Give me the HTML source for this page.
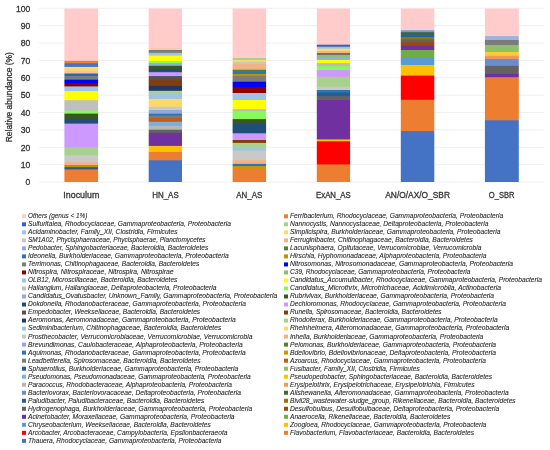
<!DOCTYPE html>
<html><head><meta charset="utf-8"><title>Relative abundance</title>
<style>
html,body{margin:0;padding:0;background:#fff;}
body{width:550px;height:450px;overflow:hidden;}
svg{display:block;}
text{font-family:"Liberation Sans",Arial,sans-serif;}
.ax{font-size:9.2px;fill:#333333;stroke:#333333;stroke-width:0.3px;}
.lg{font-size:6.8px;font-style:italic;fill:#262626;stroke:#262626;stroke-width:0.08px;}
</style></head><body>
<svg width="550" height="450" viewBox="0 0 550 450">
<rect x="0" y="0" width="550" height="450" fill="#fff"/>

<g stroke="#F0F0F0" stroke-width="1">
<line x1="39" x2="544" y1="182" y2="182"/>
<line x1="39" x2="544" y1="164.63" y2="164.63"/>
<line x1="39" x2="544" y1="147.26" y2="147.26"/>
<line x1="39" x2="544" y1="129.89" y2="129.89"/>
<line x1="39" x2="544" y1="112.52" y2="112.52"/>
<line x1="39" x2="544" y1="95.15" y2="95.15"/>
<line x1="39" x2="544" y1="77.78" y2="77.78"/>
<line x1="39" x2="544" y1="60.41" y2="60.41"/>
<line x1="39" x2="544" y1="43.04" y2="43.04"/>
<line x1="39" x2="544" y1="25.67" y2="25.67"/>
<line x1="39" x2="544" y1="8.3" y2="8.3"/>
</g>
<defs>
<mask id="c0" maskUnits="userSpaceOnUse" x="0" y="0" width="550" height="450"><rect x="64.4" y="8.3" width="33.7" height="173.7" fill="#fff"/></mask>
<mask id="c1" maskUnits="userSpaceOnUse" x="0" y="0" width="550" height="450"><rect x="148.7" y="8.3" width="33.3" height="173.7" fill="#fff"/></mask>
<mask id="c2" maskUnits="userSpaceOnUse" x="0" y="0" width="550" height="450"><rect x="232.6" y="8.3" width="33.5" height="173.7" fill="#fff"/></mask>
<mask id="c3" maskUnits="userSpaceOnUse" x="0" y="0" width="550" height="450"><rect x="316.8" y="8.3" width="33.3" height="173.7" fill="#fff"/></mask>
<mask id="c4" maskUnits="userSpaceOnUse" x="0" y="0" width="550" height="450"><rect x="400.8" y="8.3" width="33.5" height="173.7" fill="#fff"/></mask>
<mask id="c5" maskUnits="userSpaceOnUse" x="0" y="0" width="550" height="450"><rect x="484.9" y="8.3" width="33.9" height="173.7" fill="#fff"/></mask>
</defs>
<g mask="url(#c0)">
<rect x="63" y="8.3" width="36" height="174.7" fill="#FFCBCB"/>
<rect x="63" y="60.8" width="36" height="122.2" fill="#ED7D31"/>
<rect x="63" y="63.3" width="36" height="119.7" fill="#4472C4"/>
<rect x="63" y="66.9" width="36" height="116.1" fill="#FFD966"/>
<rect x="63" y="70.6" width="36" height="112.4" fill="#F9C29C"/>
<rect x="63" y="73.5" width="36" height="109.5" fill="#1F6AAE"/>
<rect x="63" y="75.9" width="36" height="107.1" fill="#7B7B7B"/>
<rect x="63" y="79.7" width="36" height="103.3" fill="#0000FF"/>
<rect x="63" y="83" width="36" height="100" fill="#8E0000"/>
<rect x="63" y="86.4" width="36" height="96.6" fill="#9DC3E6"/>
<rect x="63" y="91.1" width="36" height="91.9" fill="#FFFF00"/>
<rect x="63" y="100.2" width="36" height="82.8" fill="#BFBFBF"/>
<rect x="63" y="110.6" width="36" height="72.4" fill="#88FA5A"/>
<rect x="63" y="113.6" width="36" height="69.4" fill="#385723"/>
<rect x="63" y="118.9" width="36" height="64.1" fill="#1F4E79"/>
<rect x="63" y="123.6" width="36" height="59.4" fill="#CC99FF"/>
<rect x="63" y="147.2" width="36" height="35.8" fill="#A9D18E"/>
<rect x="63" y="155.3" width="36" height="27.7" fill="#C9C9C9"/>
<rect x="63" y="162.2" width="36" height="20.8" fill="#F4B183"/>
<rect x="63" y="165" width="36" height="18" fill="#BF9000"/>
<rect x="63" y="167.2" width="36" height="15.8" fill="#2F5597"/>
<rect x="63" y="169.4" width="36" height="13.6" fill="#ED7D31"/>
</g>
<g mask="url(#c1)">
<rect x="147" y="8.3" width="36" height="174.7" fill="#FFCBCB"/>
<rect x="147" y="48" width="36" height="135" fill="#F8CBAD"/>
<rect x="147" y="50" width="36" height="133" fill="#7B7B7B"/>
<rect x="147" y="52.8" width="36" height="130.2" fill="#9DC3E6"/>
<rect x="147" y="55.6" width="36" height="127.4" fill="#FFFF00"/>
<rect x="147" y="61.1" width="36" height="121.9" fill="#88FA5A"/>
<rect x="147" y="63.1" width="36" height="119.9" fill="#8FAADC"/>
<rect x="147" y="65.8" width="36" height="117.2" fill="#385723"/>
<rect x="147" y="69.1" width="36" height="113.9" fill="#1F4E79"/>
<rect x="147" y="72.2" width="36" height="110.8" fill="#CC99FF"/>
<rect x="147" y="76.1" width="36" height="106.9" fill="#525252"/>
<rect x="147" y="80.2" width="36" height="102.8" fill="#843C0C"/>
<rect x="147" y="85.9" width="36" height="97.1" fill="#203864"/>
<rect x="147" y="90.8" width="36" height="92.2" fill="#A9D18E"/>
<rect x="147" y="93" width="36" height="90" fill="#9DC3E6"/>
<rect x="147" y="98.9" width="36" height="84.1" fill="#FFD966"/>
<rect x="147" y="106.7" width="36" height="76.3" fill="#C9C9C9"/>
<rect x="147" y="110" width="36" height="73" fill="#8FAADC"/>
<rect x="147" y="113.7" width="36" height="69.3" fill="#2E75B6"/>
<rect x="147" y="115.6" width="36" height="67.4" fill="#7B7B7B"/>
<rect x="147" y="118.3" width="36" height="64.7" fill="#C55A11"/>
<rect x="147" y="121.7" width="36" height="61.3" fill="#7CAFDD"/>
<rect x="147" y="125.9" width="36" height="57.1" fill="#B7B7B7"/>
<rect x="147" y="129.7" width="36" height="53.3" fill="#636363"/>
<rect x="147" y="132.9" width="36" height="50.1" fill="#7030A0"/>
<rect x="147" y="145.9" width="36" height="37.1" fill="#FFC000"/>
<rect x="147" y="152" width="36" height="31" fill="#ED7D31"/>
<rect x="147" y="160.3" width="36" height="22.7" fill="#4472C4"/>
</g>
<g mask="url(#c2)">
<rect x="231" y="8.3" width="36" height="174.7" fill="#FFCBCB"/>
<rect x="231" y="58" width="36" height="125" fill="#A9D18E"/>
<rect x="231" y="60" width="36" height="123" fill="#FFD966"/>
<rect x="231" y="61.7" width="36" height="121.3" fill="#C9C9C9"/>
<rect x="231" y="63.9" width="36" height="119.1" fill="#F4B183"/>
<rect x="231" y="69.7" width="36" height="113.3" fill="#548235"/>
<rect x="231" y="71.9" width="36" height="111.1" fill="#2E75B6"/>
<rect x="231" y="73.9" width="36" height="109.1" fill="#BF9000"/>
<rect x="231" y="76.1" width="36" height="106.9" fill="#7B7B7B"/>
<rect x="231" y="81.7" width="36" height="101.3" fill="#0000FF"/>
<rect x="231" y="87.2" width="36" height="95.8" fill="#8E0000"/>
<rect x="231" y="93" width="36" height="90" fill="#9DC3E6"/>
<rect x="231" y="100" width="36" height="83" fill="#FFFF00"/>
<rect x="231" y="109.2" width="36" height="73.8" fill="#B8B8D0"/>
<rect x="231" y="111.1" width="36" height="71.9" fill="#88FA5A"/>
<rect x="231" y="119.1" width="36" height="63.9" fill="#385723"/>
<rect x="231" y="123.9" width="36" height="59.1" fill="#1F4E79"/>
<rect x="231" y="133.3" width="36" height="49.7" fill="#CC99FF"/>
<rect x="231" y="140" width="36" height="43" fill="#843C0C"/>
<rect x="231" y="142.9" width="36" height="40.1" fill="#A9D18E"/>
<rect x="231" y="148.2" width="36" height="34.8" fill="#9DC3E6"/>
<rect x="231" y="150.6" width="36" height="32.4" fill="#C9C9C9"/>
<rect x="231" y="160.2" width="36" height="22.8" fill="#F4B183"/>
<rect x="231" y="163.9" width="36" height="19.1" fill="#2E75B6"/>
<rect x="231" y="166.1" width="36" height="16.9" fill="#CC9900"/>
<rect x="231" y="168.7" width="36" height="14.3" fill="#ED7D31"/>
</g>
<g mask="url(#c3)">
<rect x="315" y="8.3" width="36" height="174.7" fill="#FFCBCB"/>
<rect x="315" y="44.7" width="36" height="138.3" fill="#3462C0"/>
<rect x="315" y="46.7" width="36" height="136.3" fill="#9DC3E6"/>
<rect x="315" y="48.7" width="36" height="134.3" fill="#FFD966"/>
<rect x="315" y="51.1" width="36" height="131.9" fill="#F4B183"/>
<rect x="315" y="53" width="36" height="130" fill="#6F6F6F"/>
<rect x="315" y="55" width="36" height="128" fill="#8FBF73"/>
<rect x="315" y="57.8" width="36" height="125.2" fill="#8EB4E3"/>
<rect x="315" y="60" width="36" height="123" fill="#FFFF00"/>
<rect x="315" y="63.1" width="36" height="119.9" fill="#BFB5C8"/>
<rect x="315" y="66.1" width="36" height="116.9" fill="#88FA5A"/>
<rect x="315" y="70" width="36" height="113" fill="#CC99FF"/>
<rect x="315" y="76.7" width="36" height="106.3" fill="#A9D18E"/>
<rect x="315" y="86.7" width="36" height="96.3" fill="#C9C9C9"/>
<rect x="315" y="90" width="36" height="93" fill="#2E75B6"/>
<rect x="315" y="92.6" width="36" height="90.4" fill="#255E91"/>
<rect x="315" y="96.1" width="36" height="86.9" fill="#636363"/>
<rect x="315" y="100" width="36" height="83" fill="#7030A0"/>
<rect x="315" y="139.4" width="36" height="43.6" fill="#FFC000"/>
<rect x="315" y="141.3" width="36" height="41.7" fill="#FF0000"/>
<rect x="315" y="164.4" width="36" height="18.6" fill="#ED7D31"/>
</g>
<g mask="url(#c4)">
<rect x="399" y="8.3" width="36" height="174.7" fill="#FFCBCB"/>
<rect x="399" y="30.2" width="36" height="152.8" fill="#6E9EE0"/>
<rect x="399" y="32.2" width="36" height="150.8" fill="#43682B"/>
<rect x="399" y="34.5" width="36" height="148.5" fill="#2561A5"/>
<rect x="399" y="37" width="36" height="146" fill="#997300"/>
<rect x="399" y="39.5" width="36" height="143.5" fill="#636363"/>
<rect x="399" y="42.3" width="36" height="140.7" fill="#9E480E"/>
<rect x="399" y="45.8" width="36" height="137.2" fill="#7030A0"/>
<rect x="399" y="50" width="36" height="133" fill="#70AD47"/>
<rect x="399" y="57.2" width="36" height="125.8" fill="#5B9BD5"/>
<rect x="399" y="65" width="36" height="118" fill="#FFC000"/>
<rect x="399" y="75.6" width="36" height="107.4" fill="#FF0000"/>
<rect x="399" y="99.8" width="36" height="83.2" fill="#ED7D31"/>
<rect x="399" y="131.1" width="36" height="51.9" fill="#4472C4"/>
</g>
<g mask="url(#c5)">
<rect x="483" y="8.3" width="36" height="174.7" fill="#FFCBCB"/>
<rect x="483" y="36.1" width="36" height="146.9" fill="#9BB3E1"/>
<rect x="483" y="40" width="36" height="143" fill="#7B7B7B"/>
<rect x="483" y="45" width="36" height="138" fill="#8CC168"/>
<rect x="483" y="52" width="36" height="131" fill="#FFCD33"/>
<rect x="483" y="55.8" width="36" height="127.2" fill="#F1975A"/>
<rect x="483" y="58.9" width="36" height="124.1" fill="#698ED0"/>
<rect x="483" y="65.8" width="36" height="117.2" fill="#636363"/>
<rect x="483" y="73.9" width="36" height="109.1" fill="#7030A0"/>
<rect x="483" y="77.2" width="36" height="105.8" fill="#ED7D31"/>
<rect x="483" y="120.3" width="36" height="62.7" fill="#4472C4"/>
</g>
<text class="ax" x="25.61" y="185.25" textLength="4.79" lengthAdjust="spacingAndGlyphs">0</text>
<text class="ax" x="20.82" y="167.88" textLength="9.58" lengthAdjust="spacingAndGlyphs">10</text>
<text class="ax" x="20.82" y="150.51" textLength="9.58" lengthAdjust="spacingAndGlyphs">20</text>
<text class="ax" x="20.82" y="133.14" textLength="9.58" lengthAdjust="spacingAndGlyphs">30</text>
<text class="ax" x="20.82" y="115.77" textLength="9.58" lengthAdjust="spacingAndGlyphs">40</text>
<text class="ax" x="20.82" y="98.4" textLength="9.58" lengthAdjust="spacingAndGlyphs">50</text>
<text class="ax" x="20.82" y="81.03" textLength="9.58" lengthAdjust="spacingAndGlyphs">60</text>
<text class="ax" x="20.82" y="63.66" textLength="9.58" lengthAdjust="spacingAndGlyphs">70</text>
<text class="ax" x="20.82" y="46.29" textLength="9.58" lengthAdjust="spacingAndGlyphs">80</text>
<text class="ax" x="20.82" y="28.92" textLength="9.58" lengthAdjust="spacingAndGlyphs">90</text>
<text class="ax" x="16.03" y="11.55" textLength="14.37" lengthAdjust="spacingAndGlyphs">100</text>
<text class="ax" x="63.36" y="197.5" textLength="35.97" lengthAdjust="spacingAndGlyphs">Inoculum</text>
<text class="ax" x="152.2" y="197.5" textLength="26.5" lengthAdjust="spacingAndGlyphs">HN_AS</text>
<text class="ax" x="236.26" y="197.5" textLength="26.08" lengthAdjust="spacingAndGlyphs">AN_AS</text>
<text class="ax" x="316" y="197.5" textLength="34.79" lengthAdjust="spacingAndGlyphs">ExAN_AS</text>
<text class="ax" x="385.29" y="197.5" textLength="64.72" lengthAdjust="spacingAndGlyphs">AN/O/AX/O_SBR</text>
<text class="ax" x="488.86" y="197.5" textLength="25.58" lengthAdjust="spacingAndGlyphs">O_SBR</text>
<text class="ax" transform="translate(12.0,97.2) rotate(-90)" x="-45.08" y="0" textLength="90.17" lengthAdjust="spacingAndGlyphs">Relative abundance (%)</text>
<rect x="22" y="214.3" width="4" height="4" fill="#FFCBCB"/>
<text class="lg" x="28" y="218.2" textLength="59.41" lengthAdjust="spacingAndGlyphs">Others (genus &lt; 1%)</text>
<rect x="22" y="222.32" width="4" height="4" fill="#3462C0"/>
<text class="lg" x="28" y="226.22" textLength="202.96" lengthAdjust="spacingAndGlyphs">Sulfuritalea, Rhodocyclaceae, Gammaproteobacteria, Proteobacteria</text>
<rect x="22" y="230.34" width="4" height="4" fill="#9DC3E6"/>
<text class="lg" x="28" y="234.24" textLength="149.46" lengthAdjust="spacingAndGlyphs">Acidaminobacter, Family_XII, Clostridia, Firmicutes</text>
<rect x="22" y="238.36" width="4" height="4" fill="#C9C9C9"/>
<text class="lg" x="28" y="242.26" textLength="177.52" lengthAdjust="spacingAndGlyphs">SM1A02, Phycisphaeraceae, Phycisphaerae, Planctomycetes</text>
<rect x="22" y="246.38" width="4" height="4" fill="#8FAADC"/>
<text class="lg" x="28" y="250.28" textLength="180.25" lengthAdjust="spacingAndGlyphs">Pedobacter, Sphingobacteriaceae, Bacteroidia, Bacteroidetes</text>
<rect x="22" y="254.4" width="4" height="4" fill="#2E75B6"/>
<text class="lg" x="28" y="258.3" textLength="200.78" lengthAdjust="spacingAndGlyphs">Ideonella, Burkholderiaceae, Gammaproteobacteria, Proteobacteria</text>
<rect x="22" y="262.42" width="4" height="4" fill="#7B7B7B"/>
<text class="lg" x="28" y="266.32" textLength="171.26" lengthAdjust="spacingAndGlyphs">Terrimonas, Chitinophagaceae, Bacteroidia, Bacteroidetes</text>
<rect x="22" y="270.44" width="4" height="4" fill="#8E0000"/>
<text class="lg" x="28" y="274.34" textLength="145.63" lengthAdjust="spacingAndGlyphs">Nitrospira, Nitrospiraceae, Nitrospira, Nitrospirae</text>
<rect x="22" y="278.46" width="4" height="4" fill="#9DC3E6"/>
<text class="lg" x="28" y="282.36" textLength="149.39" lengthAdjust="spacingAndGlyphs">OLB12, Microscillaceae, Bacteroidia, Bacteroidetes</text>
<rect x="22" y="286.48" width="4" height="4" fill="#C0C0C0"/>
<text class="lg" x="28" y="290.38" textLength="188.48" lengthAdjust="spacingAndGlyphs">Haliangium, Haliangiaceae, Deltaproteobacteria, Proteobacteria</text>
<rect x="22" y="294.5" width="4" height="4" fill="#8FAADC"/>
<text class="lg" x="28" y="298.4" textLength="249.17" lengthAdjust="spacingAndGlyphs">Candidatus_Ovatusbacter, Unknown_Family, Gammaproteobacteria, Proteobacteria</text>
<rect x="22" y="302.52" width="4" height="4" fill="#1F4E79"/>
<text class="lg" x="28" y="306.42" textLength="217.86" lengthAdjust="spacingAndGlyphs">Dokdonella, Rhodanobacteraceae, Gammaproteobacteria, Proteobacteria</text>
<rect x="22" y="310.54" width="4" height="4" fill="#525252"/>
<text class="lg" x="28" y="314.44" textLength="172.13" lengthAdjust="spacingAndGlyphs">Empedobacter, Weeksellaceae, Bacteroidia, Bacteroidetes</text>
<rect x="22" y="318.56" width="4" height="4" fill="#203864"/>
<text class="lg" x="28" y="322.46" textLength="207.77" lengthAdjust="spacingAndGlyphs">Aeromonas, Aeromonadaceae, Gammaproteobacteria, Proteobacteria</text>
<rect x="22" y="326.58" width="4" height="4" fill="#9DC3E6"/>
<text class="lg" x="28" y="330.48" textLength="193.22" lengthAdjust="spacingAndGlyphs">Sediminibacterium, Chitinophagaceae, Bacteroidia, Bacteroidetes</text>
<rect x="22" y="334.6" width="4" height="4" fill="#C9C9C9"/>
<text class="lg" x="28" y="338.5" textLength="224.46" lengthAdjust="spacingAndGlyphs">Prosthecobacter, Verrucomicrobiaceae, Verrucomicrobiae, Verrucomicrobia</text>
<rect x="22" y="342.62" width="4" height="4" fill="#8FAADC"/>
<text class="lg" x="28" y="346.52" textLength="214.61" lengthAdjust="spacingAndGlyphs">Brevundimonas, Caulobacteraceae, Alphaproteobacteria, Proteobacteria</text>
<rect x="22" y="350.64" width="4" height="4" fill="#2E75B6"/>
<text class="lg" x="28" y="354.54" textLength="217.64" lengthAdjust="spacingAndGlyphs">Aquimonas, Rhodanobacteraceae, Gammaproteobacteria, Proteobacteria</text>
<rect x="22" y="358.66" width="4" height="4" fill="#7B7B7B"/>
<text class="lg" x="28" y="362.56" textLength="172.46" lengthAdjust="spacingAndGlyphs">Leadbetterella, Spirosomaceae, Bacteroidia, Bacteroidetes</text>
<rect x="22" y="366.68" width="4" height="4" fill="#2F5597"/>
<text class="lg" x="28" y="370.58" textLength="210.29" lengthAdjust="spacingAndGlyphs">Sphaerotilus, Burkholderiaceae, Gammaproteobacteria, Proteobacteria</text>
<rect x="22" y="374.7" width="4" height="4" fill="#7CAFDD"/>
<text class="lg" x="28" y="378.6" textLength="222.75" lengthAdjust="spacingAndGlyphs">Pseudomonas, Pseudomonadaceae, Gammaproteobacteria, Proteobacteria</text>
<rect x="22" y="382.72" width="4" height="4" fill="#B7B7B7"/>
<text class="lg" x="28" y="386.62" textLength="203.86" lengthAdjust="spacingAndGlyphs">Paracoccus, Rhodobacteraceae, Alphaproteobacteria, Proteobacteria</text>
<rect x="22" y="390.74" width="4" height="4" fill="#698ED0"/>
<text class="lg" x="28" y="394.64" textLength="213.03" lengthAdjust="spacingAndGlyphs">Bacteriovorax, Bacteriovoracaceae, Deltaproteobacteria, Proteobacteria</text>
<rect x="22" y="398.76" width="4" height="4" fill="#255E91"/>
<text class="lg" x="28" y="402.66" textLength="176.26" lengthAdjust="spacingAndGlyphs">Paludibacter, Paludibacteraceae, Bacteroidia, Bacteroidetes</text>
<rect x="22" y="406.78" width="4" height="4" fill="#636363"/>
<text class="lg" x="28" y="410.68" textLength="224.12" lengthAdjust="spacingAndGlyphs">Hydrogenophaga, Burkholderiaceae, Gammaproteobacteria, Proteobacteria</text>
<rect x="22" y="414.8" width="4" height="4" fill="#7030A0"/>
<text class="lg" x="28" y="418.7" textLength="206.63" lengthAdjust="spacingAndGlyphs">Acinetobacter, Moraxellaceae, Gammaproteobacteria, Proteobacteria</text>
<rect x="22" y="422.82" width="4" height="4" fill="#5B9BD5"/>
<text class="lg" x="28" y="426.72" textLength="182.78" lengthAdjust="spacingAndGlyphs">Chryseobacterium, Weeksellaceae, Bacteroidia, Bacteroidetes</text>
<rect x="22" y="430.84" width="4" height="4" fill="#FF0000"/>
<text class="lg" x="28" y="434.74" textLength="199.5" lengthAdjust="spacingAndGlyphs">Arcobacter, Arcobacteraceae, Campylobacteria, Epsilonbacteraeota</text>
<rect x="22" y="438.86" width="4" height="4" fill="#4472C4"/>
<text class="lg" x="28" y="442.76" textLength="193.52" lengthAdjust="spacingAndGlyphs">Thauera, Rhodocyclaceae, Gammaproteobacteria, Proteobacteria</text>
<rect x="284" y="214.3" width="4" height="4" fill="#ED7D31"/>
<text class="lg" x="290" y="218.2" textLength="213.15" lengthAdjust="spacingAndGlyphs">Ferribacterium, Rhodocyclaceae, Gammaproteobacteria, Proteobacteria</text>
<rect x="284" y="222.32" width="4" height="4" fill="#A9D18E"/>
<text class="lg" x="290" y="226.22" textLength="198.46" lengthAdjust="spacingAndGlyphs">Nannocystis, Nannocystaceae, Deltaproteobacteria, Proteobacteria</text>
<rect x="284" y="230.34" width="4" height="4" fill="#FFD966"/>
<text class="lg" x="290" y="234.24" textLength="210.47" lengthAdjust="spacingAndGlyphs">Simplicispira, Burkholderiaceae, Gammaproteobacteria, Proteobacteria</text>
<rect x="284" y="238.36" width="4" height="4" fill="#F4B183"/>
<text class="lg" x="290" y="242.26" textLength="182.95" lengthAdjust="spacingAndGlyphs">Ferruginibacter, Chitinophagaceae, Bacteroidia, Bacteroidetes</text>
<rect x="284" y="246.38" width="4" height="4" fill="#548235"/>
<text class="lg" x="290" y="250.28" textLength="191.37" lengthAdjust="spacingAndGlyphs">Lacunisphaera, Opitutaceae, Verrucomicrobiae, Verrucomicrobia</text>
<rect x="284" y="254.4" width="4" height="4" fill="#BF9000"/>
<text class="lg" x="290" y="258.3" textLength="196.36" lengthAdjust="spacingAndGlyphs">Hirschia, Hyphomonadaceae, Alphaproteobacteria, Proteobacteria</text>
<rect x="284" y="262.42" width="4" height="4" fill="#0000FF"/>
<text class="lg" x="290" y="266.32" textLength="223.05" lengthAdjust="spacingAndGlyphs">Nitrosomonas, Nitrosomonadaceae, Gammaproteobacteria, Proteobacteria</text>
<rect x="284" y="270.44" width="4" height="4" fill="#8CC168"/>
<text class="lg" x="290" y="274.34" textLength="180.48" lengthAdjust="spacingAndGlyphs">C39, Rhodocyclaceae, Gammaproteobacteria, Proteobacteria</text>
<rect x="284" y="278.46" width="4" height="4" fill="#FFFF00"/>
<text class="lg" x="290" y="282.36" textLength="251.93" lengthAdjust="spacingAndGlyphs">Candidatus_Accumulibacter, Rhodocyclaceae, Gammaproteobacteria, Proteobacteria</text>
<rect x="284" y="286.48" width="4" height="4" fill="#88FA5A"/>
<text class="lg" x="290" y="290.38" textLength="210.98" lengthAdjust="spacingAndGlyphs">Candidatus_Microthrix, Microtrichaceae, Acidimicrobiia, Actinobacteria</text>
<rect x="284" y="294.5" width="4" height="4" fill="#385723"/>
<text class="lg" x="290" y="298.4" textLength="204.07" lengthAdjust="spacingAndGlyphs">Rubrivivax, Burkholderiaceae, Gammaproteobacteria, Proteobacteria</text>
<rect x="284" y="302.52" width="4" height="4" fill="#CC99FF"/>
<text class="lg" x="290" y="306.42" textLength="215.83" lengthAdjust="spacingAndGlyphs">Dechloromonas, Rhodocyclaceae, Gammaproteobacteria, Proteobacteria</text>
<rect x="284" y="310.54" width="4" height="4" fill="#843C0C"/>
<text class="lg" x="290" y="314.44" textLength="151.64" lengthAdjust="spacingAndGlyphs">Runella, Spirosomaceae, Bacteroidia, Bacteroidetes</text>
<rect x="284" y="318.56" width="4" height="4" fill="#A9D18E"/>
<text class="lg" x="290" y="322.46" textLength="207.67" lengthAdjust="spacingAndGlyphs">Rhodoferax, Burkholderiaceae, Gammaproteobacteria, Proteobacteria</text>
<rect x="284" y="326.58" width="4" height="4" fill="#FFD966"/>
<text class="lg" x="290" y="330.48" textLength="219.3" lengthAdjust="spacingAndGlyphs">Rheinheimera, Alteromonadaceae, Gammaproteobacteria, Proteobacteria</text>
<rect x="284" y="334.6" width="4" height="4" fill="#F4B183"/>
<text class="lg" x="290" y="338.5" textLength="193.34" lengthAdjust="spacingAndGlyphs">Inhella, Burkholderiaceae, Gammaproteobacteria, Proteobacteria</text>
<rect x="284" y="342.62" width="4" height="4" fill="#548235"/>
<text class="lg" x="290" y="346.52" textLength="206.08" lengthAdjust="spacingAndGlyphs">Pelomonas, Burkholderiaceae, Gammaproteobacteria, Proteobacteria</text>
<rect x="284" y="350.64" width="4" height="4" fill="#CC9900"/>
<text class="lg" x="290" y="354.54" textLength="205.91" lengthAdjust="spacingAndGlyphs">Bdellovibrio, Bdellovibrionaceae, Deltaproteobacteria, Proteobacteria</text>
<rect x="284" y="358.66" width="4" height="4" fill="#C55A11"/>
<text class="lg" x="290" y="362.56" textLength="195.88" lengthAdjust="spacingAndGlyphs">Azoarcus, Rhodocyclaceae, Gammaproteobacteria, Proteobacteria</text>
<rect x="284" y="366.68" width="4" height="4" fill="#8CC168"/>
<text class="lg" x="290" y="370.58" textLength="129.78" lengthAdjust="spacingAndGlyphs">Fusibacter, Family_XII, Clostridia, Firmicutes</text>
<rect x="284" y="374.7" width="4" height="4" fill="#FFC000"/>
<text class="lg" x="290" y="378.6" textLength="201.97" lengthAdjust="spacingAndGlyphs">Pseudopedobacter, Sphingobacteriaceae, Bacteroidia, Bacteroidetes</text>
<rect x="284" y="382.72" width="4" height="4" fill="#F1975A"/>
<text class="lg" x="290" y="386.62" textLength="184.5" lengthAdjust="spacingAndGlyphs">Erysipelothrix, Erysipelotrichaceae, Erysipelotrichia, Firmicutes</text>
<rect x="284" y="390.74" width="4" height="4" fill="#43682B"/>
<text class="lg" x="290" y="394.64" textLength="218.64" lengthAdjust="spacingAndGlyphs">Alishewanella, Alteromonadaceae, Gammaproteobacteria, Proteobacteria</text>
<rect x="284" y="398.76" width="4" height="4" fill="#997300"/>
<text class="lg" x="290" y="402.66" textLength="225.69" lengthAdjust="spacingAndGlyphs">Blvii28_wastewater-sludge_group, Rikenellaceae, Bacteroidia, Bacteroidetes</text>
<rect x="284" y="406.78" width="4" height="4" fill="#9E480E"/>
<text class="lg" x="290" y="410.68" textLength="209.21" lengthAdjust="spacingAndGlyphs">Desulfobulbus, Desulfobulbaceae, Deltaproteobacteria, Proteobacteria</text>
<rect x="284" y="414.8" width="4" height="4" fill="#70AD47"/>
<text class="lg" x="290" y="418.7" textLength="160.24" lengthAdjust="spacingAndGlyphs">Anaerocella, Rikenellaceae, Bacteroidia, Bacteroidetes</text>
<rect x="284" y="422.82" width="4" height="4" fill="#FFC000"/>
<text class="lg" x="290" y="426.72" textLength="196.31" lengthAdjust="spacingAndGlyphs">Zoogloea, Rhodocyclaceae, Gammaproteobacteria, Proteobacteria</text>
<rect x="284" y="430.84" width="4" height="4" fill="#ED7D31"/>
<text class="lg" x="290" y="434.74" textLength="184" lengthAdjust="spacingAndGlyphs">Flavobacterium, Flavobacteriaceae, Bacteroidia, Bacteroidetes</text>
</svg>
</body></html>
